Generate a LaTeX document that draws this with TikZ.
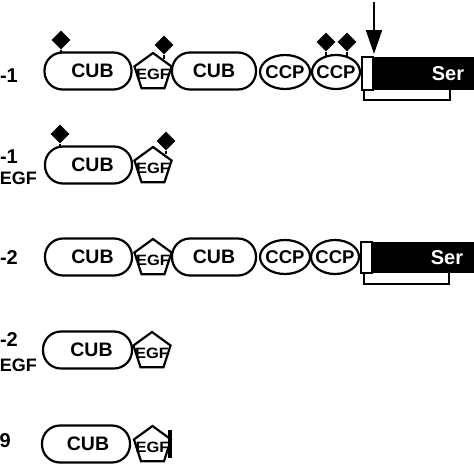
\documentclass[tikz,border=0pt]{standalone}
\usepackage{fontspec}
\setmainfont{Liberation Sans}
\usepackage{graphicx}
\usetikzlibrary{shapes.geometric,arrows.meta}
\begin{document}
\begin{tikzpicture}[x=1pt,y=-1pt,
  lw/.style={line width=2.2pt},
  cub/.style={draw,lw,rounded corners=18pt,minimum width=#1,minimum height=37pt,inner sep=0pt,
    font=\bfseries\fontsize{19.5}{19.5}\selectfont},
  cub/.default=87pt,
  egf/.style={draw,lw,regular polygon,regular polygon sides=5,minimum size=39pt,inner sep=0pt},
  egft/.style={inner sep=0pt,font=\bfseries\fontsize{15}{15}\selectfont},
  ccp/.style={draw,lw,ellipse,minimum width=#1,minimum height=34pt,inner sep=0pt},
  ccp/.default=50pt,
  ccpt/.style={inner sep=0pt,font=\bfseries\fontsize{18.5}{18.5}\selectfont},
  gly/.style={diamond,fill=black,minimum width=19pt,minimum height=19pt,inner sep=0pt},
  stem/.style={line width=1.6pt},
  lab/.style={anchor=east,inner sep=0pt,font=\bfseries\fontsize{20}{20}\selectfont},
  whitebox/.style={draw,lw,fill=white,minimum width=11pt,minimum height=#1,inner sep=0pt},
  serbox/.style={fill=black,minimum width=108pt,minimum height=#1,inner sep=0pt,anchor=west},
  sertext/.style={text=white,inner sep=0pt,font=\bfseries\fontsize{20}{20}\selectfont},
  bracket/.style={lw}
]
\useasboundingbox (0,0) rectangle (474,474);
\clip (0,0) rectangle (474,474);

% ---------- labels ----------
\node[lab] (l1) at (18,76) {-1};
\node[lab] (l2a) at (18,157) {-1};
\node[lab,font=\bfseries\fontsize{18}{18}\selectfont] (l2b) at (37,178) {EGF};
\node[lab] (l3) at (18,258) {-2};
\node[lab] (l4a) at (18,340) {-2};
\node[lab,font=\bfseries\fontsize{18}{18}\selectfont] (l4b) at (37,365) {EGF};
\node[lab] (l5) at (11,441) {9};

% ---------- row 1 ----------
\node[serbox=33pt] (ser1) at (372,73.5) {};
\node[sertext] (ser1t) at (448,74) {Ser};
\node[whitebox=33pt] (wb1) at (367.5,73.5) {};
\draw[bracket] (364,90) -- (364,100) -- (450,100) -- (450,90);
\node[cub] (c11) at (88,71) {\hspace*{9pt}CUB};
\node[egf] (e1) at (153,72.5) {};
\node[egft] (e1t) at (153,74) {\scalebox{1.1}[1]{EGF}};
\node[cub=84pt] (c12) at (214,71) {CUB};
\node[ccp] (p11) at (285,72) {};
\node[ccpt] (p11t) at (285,72.5) {CCP};
\node[ccp=48pt] (p12) at (336,72) {};
\node[ccpt] (p12t) at (336,72.5) {CCP};
\node[gly] (g11) at (61,40) {};
\draw[stem] (g11.south) -- (61,53);
\node[gly] (g12) at (164,45) {};
\draw[stem] (g12.south) -- (164,59);
\node[gly] (g13) at (326,42) {};
\draw[stem] (g13.south) -- (326,57);
\node[gly] (g14) at (347,42) {};
\draw[stem] (g14.south) -- (347,57);
\coordinate (arrtop) at (374,2);
\coordinate (arrend) at (374,54);
\draw[line width=2pt,-{Triangle[width=16pt,length=24pt]}] (arrtop) -- (arrend);

% ---------- row 2 ----------
\node[cub] (c21) at (88.5,165) {\hspace*{8pt}CUB};
\node[egf] (e2) at (153,166.5) {};
\node[egft] (e2t) at (153,168) {\scalebox{1.1}[1]{EGF}};
\node[gly] (g21) at (60,134) {};
\draw[stem] (g21.south) -- (60,147);
\node[gly] (g22) at (166,141) {};
\draw[stem] (g22.south) -- (166,154);

% ---------- row 3 ----------
\node[serbox=31pt] (ser3) at (372,257.5) {};
\node[sertext] (ser3t) at (447,258) {Ser};
\node[whitebox=31pt] (wb3) at (366.5,257.5) {};
\draw[bracket] (364,273) -- (364,284) -- (449,284) -- (449,273);
\node[cub] (c31) at (88.5,257) {\hspace*{8pt}CUB};
\node[egf] (e3) at (153,258.5) {};
\node[egft] (e3t) at (153,260) {\scalebox{1.1}[1]{EGF}};
\node[cub=84pt] (c32) at (214,257) {CUB};
\node[ccp] (p31) at (285,257) {};
\node[ccpt] (p31t) at (285,257.5) {CCP};
\node[ccp=48pt] (p32) at (335,257) {};
\node[ccpt] (p32t) at (335,257.5) {CCP};

% ---------- row 4 ----------
\node[cub=89pt] (c41) at (87.5,350) {\hspace*{8pt}CUB};
\node[egf] (e4) at (152,351.5) {};
\node[egft] (e4t) at (152,353) {\scalebox{1.1}[1]{EGF}};

% ---------- row 5 ----------
\node[cub=88pt] (c51) at (86,444) {\hspace*{4pt}CUB};
\node[egf] (e5) at (152.5,445.5) {};
\node[egft] (e5t) at (152.5,447) {\scalebox{1.1}[1]{EGF}};
\node[fill=black,minimum width=4.5pt,minimum height=28pt,inner sep=0pt] (bar5) at (170,444) {};
\end{tikzpicture}
\end{document}
